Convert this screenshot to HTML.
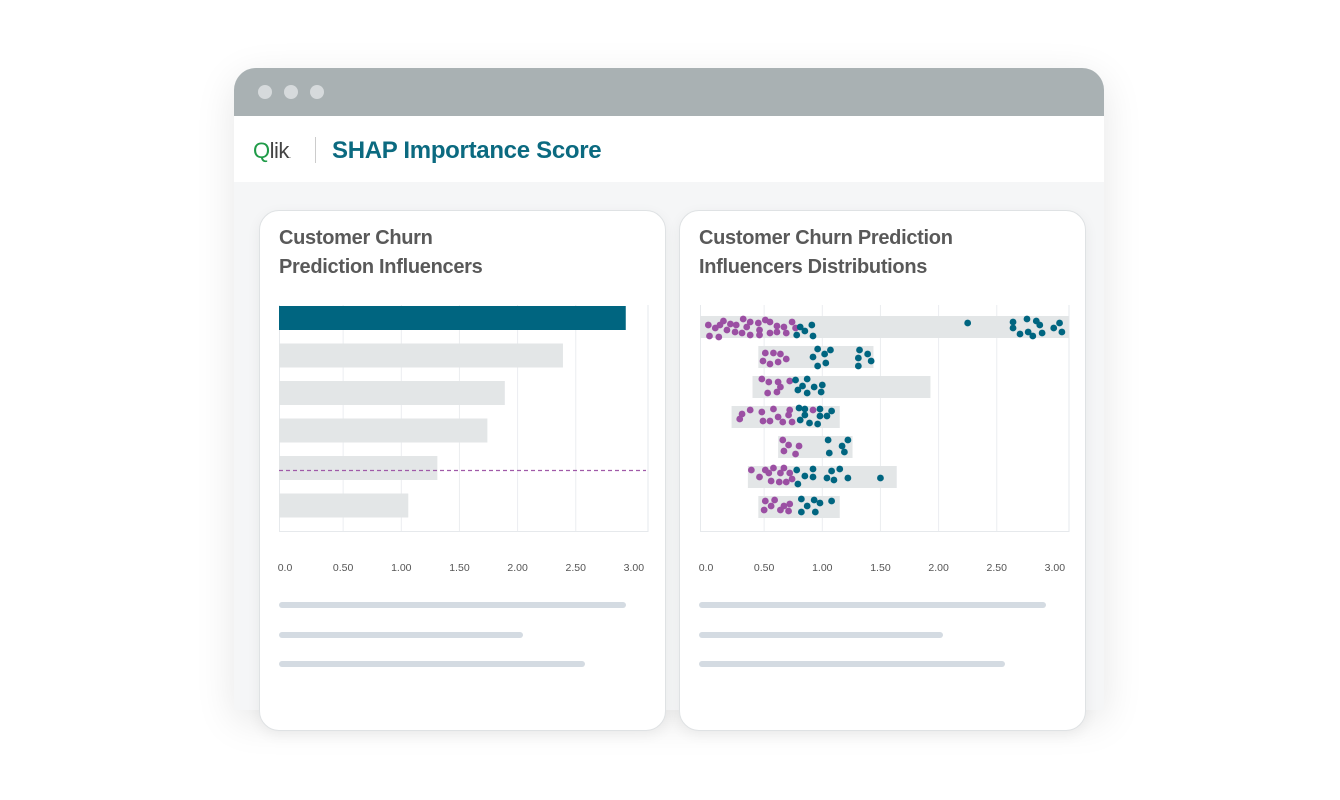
<!DOCTYPE html>
<html><head><meta charset="utf-8">
<style>
body{margin:0;width:1340px;height:800px;background:#fff;position:relative;overflow:hidden;font-family:"Liberation Sans",sans-serif}
.abs{position:absolute}
#win{left:234px;top:68px;width:870px;height:642px;border-radius:22px 22px 0 0;background:#f5f6f7;box-shadow:0 10px 40px rgba(0,0,0,0.10);overflow:hidden}
#bar{left:0;top:0;width:870px;height:48px;background:#a9b1b3}
.dot{width:14px;height:14px;border-radius:50%;background:#d6dadc;top:17px}
#hdr{left:0;top:48px;width:870px;height:66px;background:#fff}
.card{top:210px;width:405px;height:519px;background:#fff;border:1.5px solid #dfe2e4;border-radius:20px;box-shadow:0 4px 14px rgba(0,0,0,0.06)}
.ct{left:19px;top:13px;font-size:20px;font-weight:bold;color:#595959;line-height:29px;letter-spacing:-0.3px}
.ln{height:6px;border-radius:3px;background:#d4dbe2;left:19px}
</style></head><body>
<div id="win" class="abs">
 <div id="bar" class="abs">
  <div class="abs dot" style="left:24px"></div>
  <div class="abs dot" style="left:50px"></div>
  <div class="abs dot" style="left:76px"></div>
 </div>
 <div id="hdr" class="abs">
  <div class="abs" style="left:19px;top:22px;font-size:22px;color:#444;letter-spacing:-0.5px"><span style="color:#1f9b48">Q</span>lik<span style="font-size:8px">.</span></div>
  <div class="abs" style="left:81px;top:21px;width:1px;height:26px;background:#ccc"></div>
  <div class="abs" style="left:98px;top:21px;font-size:24px;font-weight:bold;color:#0b6a80;letter-spacing:-0.3px">SHAP Importance Score</div>
 </div>
</div>
<div class="abs card" style="left:259px">
 <div class="abs ct">Customer Churn<br>Prediction Influencers</div>
 <div class="abs ln" style="top:391px;width:347px"></div>
 <div class="abs ln" style="top:421px;width:244px"></div>
 <div class="abs ln" style="top:450px;width:306px"></div>
</div>
<div class="abs card" style="left:679px">
 <div class="abs ct">Customer Churn Prediction<br>Influencers Distributions</div>
 <div class="abs ln" style="top:391px;width:347px"></div>
 <div class="abs ln" style="top:421px;width:244px"></div>
 <div class="abs ln" style="top:450px;width:306px"></div>
</div>
<svg class="abs" style="left:0;top:0" width="1340" height="800" id="chart"></svg>
<script>
const ticks=[0,0.5,1,1.5,2,2.5,3];
const tickLabels=["0.0","0.50","1.00","1.50","2.00","2.50","3.00"];
const barValues=[2.93,2.39,1.89,1.74,1.31,1.06];
const thresholdValue=1.3;
const rangeLow=[-0.05,0.45,0.40,0.22,0.62,0.36,0.45];
const rangeHigh=[3.12,1.44,1.93,1.15,1.26,1.64,1.15];
const purpleDots=[
[[0.02,-2],[0.08,1],[0.12,-2],[0.15,-6],[0.21,-3],[0.18,3],[0.26,-2],[0.25,5],[0.32,-8],[0.31,6],[0.38,-5],[0.35,0],[0.45,-4],[0.46,3],[0.51,-7],[0.55,-5],[0.61,-1],[0.55,6],[0.61,5],[0.67,0],[0.69,6],[0.74,-5],[0.77,1],[0.03,9],[0.11,10],[0.38,8],[0.46,8]],
[[0.51,-4],[0.58,-4],[0.64,-3],[0.49,4],[0.55,7],[0.62,5],[0.69,2]],
[[0.48,-8],[0.54,-5],[0.62,-5],[0.72,-6],[0.64,0],[0.53,6],[0.61,5]],
[[0.38,-7],[0.31,-3],[0.29,2],[0.48,-5],[0.58,-8],[0.49,4],[0.55,4],[0.62,0],[0.71,-2],[0.72,-7],[0.66,5],[0.74,5],[0.92,-7]],
[[0.66,-7],[0.71,-2],[0.80,-1],[0.67,4],[0.77,7]],
[[0.39,-7],[0.51,-7],[0.58,-9],[0.67,-9],[0.46,0],[0.54,-4],[0.64,-4],[0.72,-4],[0.56,4],[0.63,5],[0.69,5],[0.74,2]],
[[0.51,-6],[0.59,-7],[0.56,-1],[0.50,3],[0.64,3],[0.67,-1],[0.72,-3],[0.71,4]]];
const tealDots=[
[[0.81,0],[0.91,-2],[0.85,4],[0.78,8],[0.92,9],[2.25,-4],[2.64,-5],[2.76,-8],[2.84,-6],[2.87,-2],[2.64,1],[2.70,7],[2.77,5],[2.81,9],[2.89,6],[2.99,1],[3.04,-4],[3.06,5]],
[[0.96,-8],[1.07,-7],[1.02,-3],[0.92,0],[1.03,6],[0.96,9],[1.32,-7],[1.39,-3],[1.31,1],[1.42,4],[1.31,9]],
[[0.77,-7],[0.87,-8],[0.83,-1],[0.79,3],[0.93,0],[1.00,-2],[0.87,6],[0.99,5]],
[[0.80,-9],[0.85,-8],[0.85,-2],[0.81,3],[0.89,6],[0.96,7],[0.98,-8],[0.98,-1],[1.04,-1],[1.08,-6]],
[[1.05,-7],[1.22,-7],[1.17,-1],[1.06,6],[1.19,5]],
[[0.78,-7],[0.85,-1],[0.79,7],[0.92,-8],[0.92,0],[1.08,-6],[1.15,-8],[1.04,1],[1.10,3],[1.22,1],[1.50,1]],
[[0.82,-8],[0.87,-1],[0.82,5],[0.93,-7],[0.98,-4],[0.94,5],[1.08,-6]]];
const svg=document.getElementById('chart');
const NS='http://www.w3.org/2000/svg';
function mk(t,a){const e=document.createElementNS(NS,t);for(const k in a)e.setAttribute(k,a[k]);svg.appendChild(e);return e;}
function xL(v){return 285+116.3*v;}
function xR(v){return 706+116.3*v;}
// left chart
ticks.forEach((t,i)=>{if(i>0&&i<6){const g=mk('line',{x1:xL(t),x2:xL(t),y1:305,y2:531,stroke:'#ebedf0','stroke-width':1});

}
const tx=mk('text',{x:xL(t),y:571,'font-size':10.5,fill:'#555','text-anchor':'middle','font-family':'Liberation Sans'});tx.textContent=tickLabels[i];

});
let ax=mk('path',{d:'M279.5 305V531.5H648V305',fill:'none',stroke:'#e6e9ec'});


barValues.forEach((v,i)=>{const r=mk('rect',{x:279,y:306+i*37.5,width:xL(v)-279,height:24,fill:i==0?'#006580':'#e3e6e7'});

});
let th=mk('line',{x1:279,x2:646,y1:470.5,y2:470.5,stroke:'#a05aa8','stroke-width':1.2,'stroke-dasharray':'4 3'});


// right chart
ticks.forEach((t,i)=>{if(i>0&&i<6){const g=mk('line',{x1:xR(t),x2:xR(t),y1:305,y2:531,stroke:'#ebedf0','stroke-width':1});

}
const tx=mk('text',{x:xR(t),y:571,'font-size':10.5,fill:'#555','text-anchor':'middle','font-family':'Liberation Sans'});tx.textContent=tickLabels[i];

});
ax=mk('path',{d:'M700.5 305V531.5H1069V305',fill:'none',stroke:'#e6e9ec'});


rangeLow.forEach((lo,i)=>{const cy=327+i*30;
const r=mk('rect',{x:Math.max(xR(lo),700),y:cy-11,width:Math.min(xR(rangeHigh[i]),1069)-Math.max(xR(lo),700),height:22,fill:'#e3e6e7'});


purpleDots[i].forEach(d=>{const c=mk('circle',{cx:xR(d[0]),cy:cy+d[1],r:3.4,fill:'#9b4fa3'});

});
tealDots[i].forEach(d=>{const c=mk('circle',{cx:xR(d[0]),cy:cy+d[1],r:3.4,fill:'#006580'});

});});
</script>
</body></html>
